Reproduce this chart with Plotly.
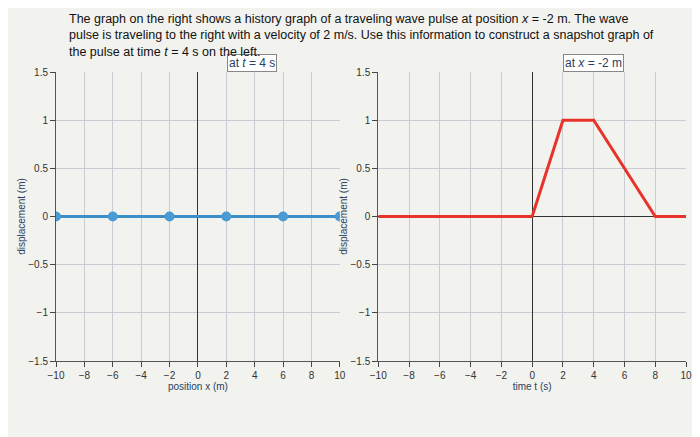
import plotly.graph_objects as go
from plotly.subplots import make_subplots

# snapshot graph at t = 4 s (points the user placed)
snap_x = [-10, -6, -2, 2, 6, 10]
snap_y = [0, 0, 0, 0, 0, 0]

# history graph at x = -2 m
hist_t = [-10, 0, 2, 4, 8, 10]
hist_y = [0, 0, 1, 1, 0, 0]

ticks_x = [-10, -8, -6, -4, -2, 0, 2, 4, 6, 8, 10]
ticks_y = [-1.5, -1, -0.5, 0, 0.5, 1, 1.5]

fig = make_subplots(rows=1, cols=2)
fig.add_trace(go.Scatter(x=snap_x, y=snap_y, mode='lines+markers',
                         line=dict(color='#3a8fc8', width=3),
                         marker=dict(size=10, color='#4a9ad4')), row=1, col=1)
fig.add_trace(go.Scatter(x=hist_t, y=hist_y, mode='lines',
                         line=dict(color='#e8332a', width=3)), row=1, col=2)

axstyle = dict(showgrid=True, gridcolor='#c9cdd3', zeroline=True, zerolinecolor='#333',
               zerolinewidth=1, showline=True, linecolor='#555', ticks='outside',
               tickfont=dict(size=10, color='#333'))
for c in (1, 2):
    fig.update_xaxes(range=[-10, 10], tickvals=ticks_x, **axstyle, row=1, col=c)
    fig.update_yaxes(range=[-1.5, 1.5], tickvals=ticks_y, **axstyle, row=1, col=c)
fig.update_xaxes(domain=[0.0125, 0.456], row=1, col=1)
fig.update_xaxes(domain=[0.516, 0.997], row=1, col=2)
fig.update_xaxes(title=dict(text='position x (m)', font=dict(size=10), standoff=2), row=1, col=1)
fig.update_xaxes(title=dict(text='time t (s)', font=dict(size=10), standoff=2), row=1, col=2)
fig.update_yaxes(title=dict(text='displacement (m)', font=dict(size=10), standoff=0), row=1, col=1)
fig.update_yaxes(title=dict(text='displacement (m)', font=dict(size=10), standoff=0), row=1, col=2)

fig.add_annotation(x=0.28, y=1.0, xref='paper', yref='paper', yanchor='bottom',
                   text='at <i>t</i> = 4 s', showarrow=False, bordercolor='#888',
                   borderwidth=1, bgcolor='white', font=dict(size=12))
fig.add_annotation(x=0.9, y=1.0, xref='paper', yref='paper', yanchor='bottom',
                   text='at <i>x</i> = -2 m', showarrow=False, bordercolor='#888',
                   borderwidth=1, bgcolor='white', font=dict(size=12))
fig.add_annotation(x=0.03, y=1.215, xref='paper', yref='paper', xanchor='left', yanchor='top',
                   align='left', showarrow=False, font=dict(size=12.5, color='#111'),
                   text='The graph on the right shows a history graph of a traveling wave pulse at position <i>x</i> = -2 m. The wave<br>'
                        'pulse is traveling to the right with a velocity of 2 m/s. Use this information to construct a snapshot graph of<br>'
                        'the pulse at time <i>t</i> = 4 s on the left.')

fig.update_layout(width=700, height=437, showlegend=False,
                  margin=dict(l=40, r=20, t=64, b=84),
                  paper_bgcolor='#f2f2ee', plot_bgcolor='#f2f2ee',
                  font=dict(family='Arial, Liberation Sans'))
fig.write_html("out.html")
